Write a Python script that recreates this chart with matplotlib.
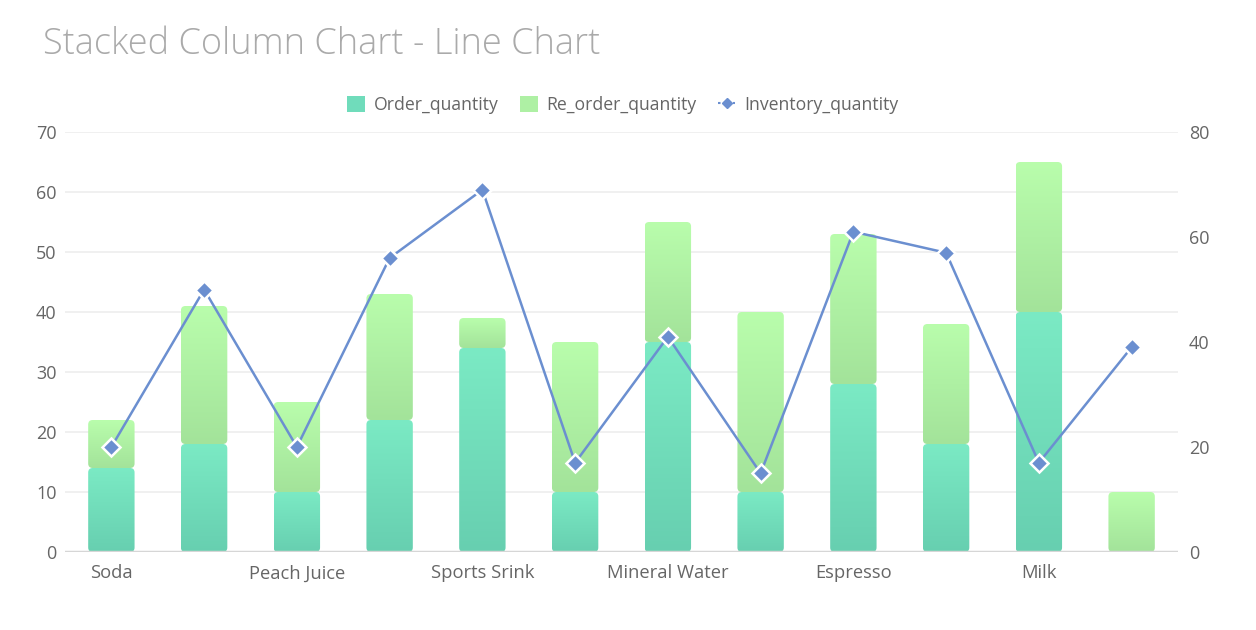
import matplotlib
matplotlib.use("Agg")
import matplotlib.pyplot as plt
import numpy as np
from matplotlib.patches import FancyBboxPatch, Patch
from matplotlib.lines import Line2D
from matplotlib.colors import LinearSegmentedColormap

categories = ["Soda", "Cola", "Peach Juice", "Lemonade", "Sports Srink", "Iced Tea",
              "Mineral Water", "Green Tea", "Espresso", "Latte", "Milk", "Yogurt"]
order_quantity = [14, 18, 10, 22, 34, 10, 35, 10, 28, 18, 40, 0]
re_order_quantity = [8, 23, 15, 21, 5, 25, 20, 30, 25, 20, 25, 10]
inventory_quantity = [20, 50, 20, 56, 69, 17, 41, 15, 61, 57, 17, 39]
left_ticks = [0, 10, 20, 30, 40, 50, 60, 70]
right_ticks = [0, 20, 40, 60, 80]

plt.rcParams['font.family'] = ['Open Sans', 'DejaVu Sans']

W, H = 1256, 630
fig = plt.figure(figsize=(W / 100, H / 100), dpi=100)
ax = fig.add_axes([65 / W, 1 - 552 / H, (1178 - 65) / W, (552 - 132) / H])
ax2 = ax.twinx()

x = np.arange(len(categories))
ax.set_xlim(-0.5, len(categories) - 0.5)
ax.set_ylim(0, 70)
ax2.set_ylim(0, 80)

order_cols = ("#7beac4", "#67cfb0")
reorder_cols = ("#b9fdac", "#a3e39a")

b1 = ax.bar(x, order_quantity, width=0.5, color="none", edgecolor="none")
b2 = ax.bar(x, re_order_quantity, width=0.5, bottom=order_quantity, color="none", edgecolor="none")

fig.canvas.draw()
px_x = ax.transData.transform((1, 0))[0] - ax.transData.transform((0, 0))[0]
px_y = ax.transData.transform((0, 1))[1] - ax.transData.transform((0, 0))[1]
radius_px = 4.5

def draw_bars(bars, cols):
    cmap = LinearSegmentedColormap.from_list("g", [cols[1], cols[0]])
    grad = np.linspace(0, 1, 512).reshape(-1, 1)
    for r in bars:
        bx, by, bw, bh = r.get_x(), r.get_y(), r.get_width(), r.get_height()
        if bh <= 0:
            continue
        rs = radius_px / px_x
        asp = px_x / px_y
        patch = FancyBboxPatch((bx, by), bw, bh,
                               boxstyle=f"round,pad=0,rounding_size={rs}",
                               mutation_aspect=asp,
                               facecolor="none", edgecolor="none", zorder=2)
        ax.add_patch(patch)
        im = ax.imshow(grad, cmap=cmap, aspect="auto", origin="lower",
                       extent=(bx, bx + bw, by, by + bh), zorder=2, interpolation="bilinear")
        im.set_clip_path(patch)

draw_bars(b1, order_cols)
draw_bars(b2, reorder_cols)
ax.set_xlim(-0.5, len(categories) - 0.5)
ax.set_ylim(0, 70)

line_col = "#6b8fd0"
ax2.plot(x, inventory_quantity, color=line_col, lw=1.8, marker="D", ms=9,
         markerfacecolor=line_col, markeredgecolor="white", markeredgewidth=1.8, zorder=5)

ax.set_yticks(left_ticks)
ax2.set_yticks(right_ticks)
ax.yaxis.grid(True, color="#eeeeee", lw=1.2)
ax.set_axisbelow(True)
for a in (ax, ax2):
    for s in ("top", "left", "right", "bottom"):
        a.spines[s].set_visible(False)
ax.axhline(0, color="#d6d6d6", lw=2.5, zorder=3)
ax.tick_params(axis="y", length=0, pad=6, labelsize=13, labelcolor="#666666")
ax2.tick_params(axis="y", length=0, pad=8, labelsize=13, labelcolor="#666666")
ax.set_xticks(x)
ax.tick_params(axis="x", length=0, pad=19, labelsize=13.2, labelcolor="#666666")
ax.set_xticklabels([c if i % 2 == 0 else "" for i, c in enumerate(categories)],
                   va="baseline")
ax2.set_zorder(ax.get_zorder() + 1)
ax2.patch.set_visible(False)

fig.text(43 / W, 1 - 45 / H, "Stacked Column Chart - Line Chart", fontsize=26,
         color="#aaaaaa", fontweight="light", va="center", ha="left")

handles = [Patch(facecolor="#70dcbb", edgecolor="none"),
           Patch(facecolor="#aef0a4", edgecolor="none"),
           Line2D([0], [0], color=line_col, lw=1.5, ls=(0, (1.2, 1.2)), marker="D", ms=5,
                  markerfacecolor=line_col, markeredgecolor=line_col)]
fig.legend(handles, ["Order_quantity", "Re_order_quantity", "Inventory_quantity"],
           loc="center", bbox_to_anchor=(623 / W, 1 - 105 / H), ncol=3, frameon=False,
           fontsize=12.7, labelcolor="#666666", handlelength=1.0, handleheight=1.0,
           handletextpad=0.5, columnspacing=1.2)

fig.savefig("out.png", dpi=100)
